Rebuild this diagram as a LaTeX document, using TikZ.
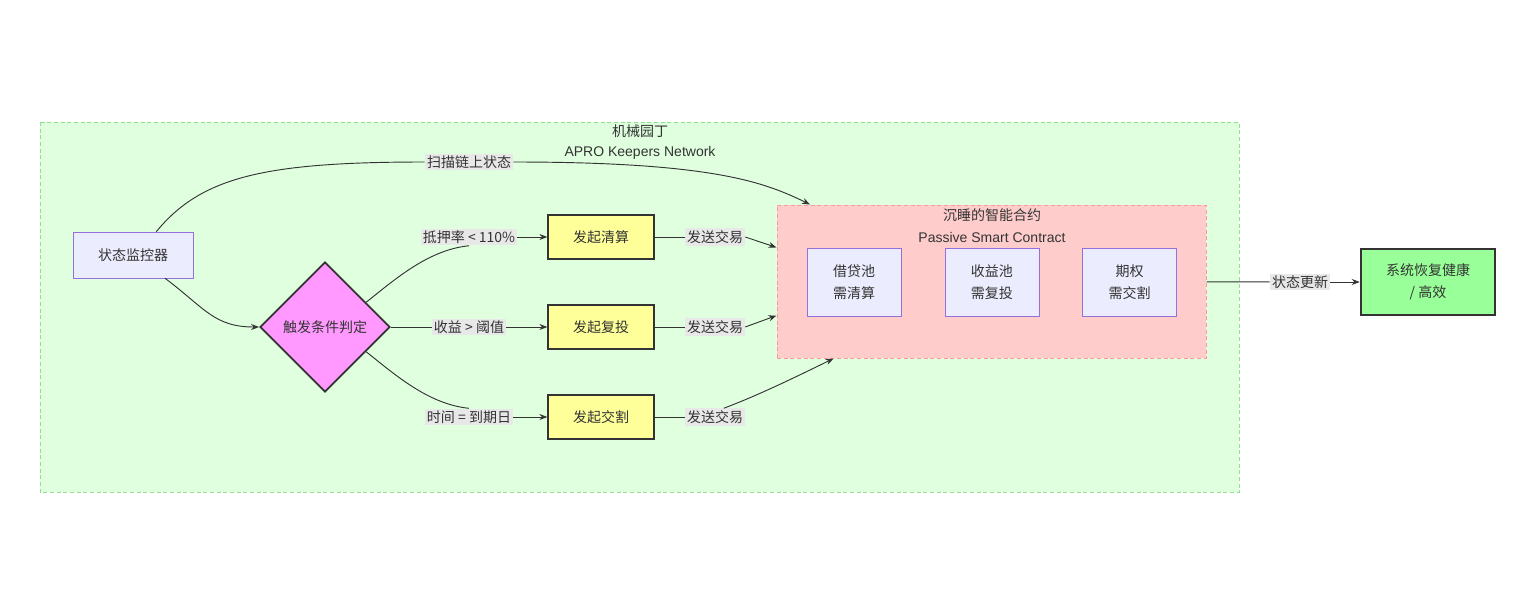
\documentclass[tikz,border=0pt]{standalone}
\usepackage{fontspec}
\setmainfont{Noto Sans CJK SC}
\newfontfamily\latin{Liberation Sans}
\usetikzlibrary{positioning,arrows.meta,shapes.geometric}
\definecolor{edgegray}{HTML}{333333}
\definecolor{nodeblue}{HTML}{ECECFF}
\definecolor{nodeborder}{HTML}{9370DB}
\definecolor{actyellow}{HTML}{FFFF99}
\definecolor{judgepink}{HTML}{FF99FF}
\definecolor{donegreen}{HTML}{99FF99}
\definecolor{gardenfill}{HTML}{DFFFDF}
\definecolor{gardenline}{HTML}{8FE08F}
\definecolor{contractfill}{HTML}{FFCCCC}
\definecolor{contractline}{HTML}{FF9999}
\definecolor{lblgray}{HTML}{E8E8E8}

\begin{document}
\begin{tikzpicture}[x=0.75pt,y=-0.75pt,>={Stealth[length=6pt,width=4.5pt]},
  font=\fontsize{10.5}{16.5}\selectfont,text=edgegray,
  pool/.style={draw=nodeborder,fill=nodeblue,align=center,minimum width=70.5pt,minimum height=51pt},
  act/.style={draw=edgegray,line width=1.4pt,fill=actyellow,minimum width=79pt,minimum height=33.6pt},
  lbl/.style={fill=lblgray,inner sep=1.5pt},
  link/.style={draw=edgegray,line width=0.7pt}]
  \useasboundingbox (0,0) rectangle (1536,614);
  % clusters
  \draw[draw=gardenline,fill=gardenfill,dash pattern=on 3pt off 2pt,line width=0.75pt] (40,122) rectangle (1239,492);
  \node (t1) at (640,131) {机械园丁};
  \node (t2) at (640,153) {\latin APRO Keepers Network};
  \node[draw=contractline,fill=contractfill,dash pattern=on 3pt off 2pt,line width=0.75pt,minimum width=321.75pt,minimum height=114.75pt] (pc) at (991.5,281.5) {};
  \node (t3) at (992,215) {沉睡的智能合约};
  \node (t4) at (992,237) {\latin Passive Smart Contract};
  % nodes
  \node[draw=nodeborder,fill=nodeblue,minimum width=90pt,minimum height=34.5pt] (mon) at (133,255) {状态监控器};
  \node[diamond,aspect=1,draw=edgegray,line width=1.4pt,fill=judgepink,minimum size=97.5pt,inner sep=0pt] (judge) at (325,327) {触发条件判定};
  \node[act] (y1) at (601,237) {发起清算};
  \node[act,below=32.5pt of y1] (y2) {发起复投};
  \node[act,below=32.5pt of y2] (y3) {发起交割};
  \node[pool] (b1) at (854,282) {借贷池\\需清算};
  \node[pool,right=32.5pt of b1] (b2) {收益池\\需复投};
  \node[pool,right=32.5pt of b2] (b3) {期权\\需交割};
  \node[draw=edgegray,line width=1.4pt,fill=donegreen,align=center,minimum width=101pt,minimum height=50pt] (fin) at (1428,282) {系统恢复健康\\/ 高效};
  % labels
  \node[lbl] (l1) at (469,162) {扫描链上状态};
  \node[lbl] (l2) at (469,237) {抵押率 < 110\%};
  \node[lbl] (l3) at (469,327) {收益 > 阈值};
  \node[lbl] (l4) at (469,417) {时间 = 到期日};
  \node[lbl] (l5) at (715,237) {发送交易};
  \node[lbl] (l6) at (715,327) {发送交易};
  \node[lbl] (l7) at (715,417) {发送交易};
  \node[lbl] (l8) at (1300,282) {状态更新};
  % edges
  \draw[link] (mon.45) .. controls +(45,-55) and +(-160,0) .. (l1.west);
  \draw[link,->] (l1.east) .. controls +(200,0) and +(-45,-22) .. (pc.157);
  \draw[link,->] (mon.-36) .. controls +(40,30) and +(-45,0) .. (judge.west);
  \draw[link] (judge.31) .. controls +(30,-24) and +(-40,4) .. (l2.south);
  \draw[link,->] (l2) -- (y1);
  \draw[link] (judge.east) -- (l3);
  \draw[link,->] (l3) -- (y2);
  \draw[link] (judge.-31) .. controls +(30,24) and +(-40,-4) .. (l4.north);
  \draw[link,->] (l4) -- (y3);
  \draw[link] (y1) -- (l5);
  \draw[link,->] (l5.east) -- (pc.171);
  \draw[link] (y2) -- (l6);
  \draw[link,->] (l6.east) -- (pc.189);
  \draw[link] (y3) -- (l7);
  \draw[link,->] (l7.45) .. controls +(35,-13) and +(-35,17) .. (pc.206);
  \draw[link] (pc) -- (l8);
  \draw[link,->] (l8) -- (fin);
\end{tikzpicture}
\end{document}
